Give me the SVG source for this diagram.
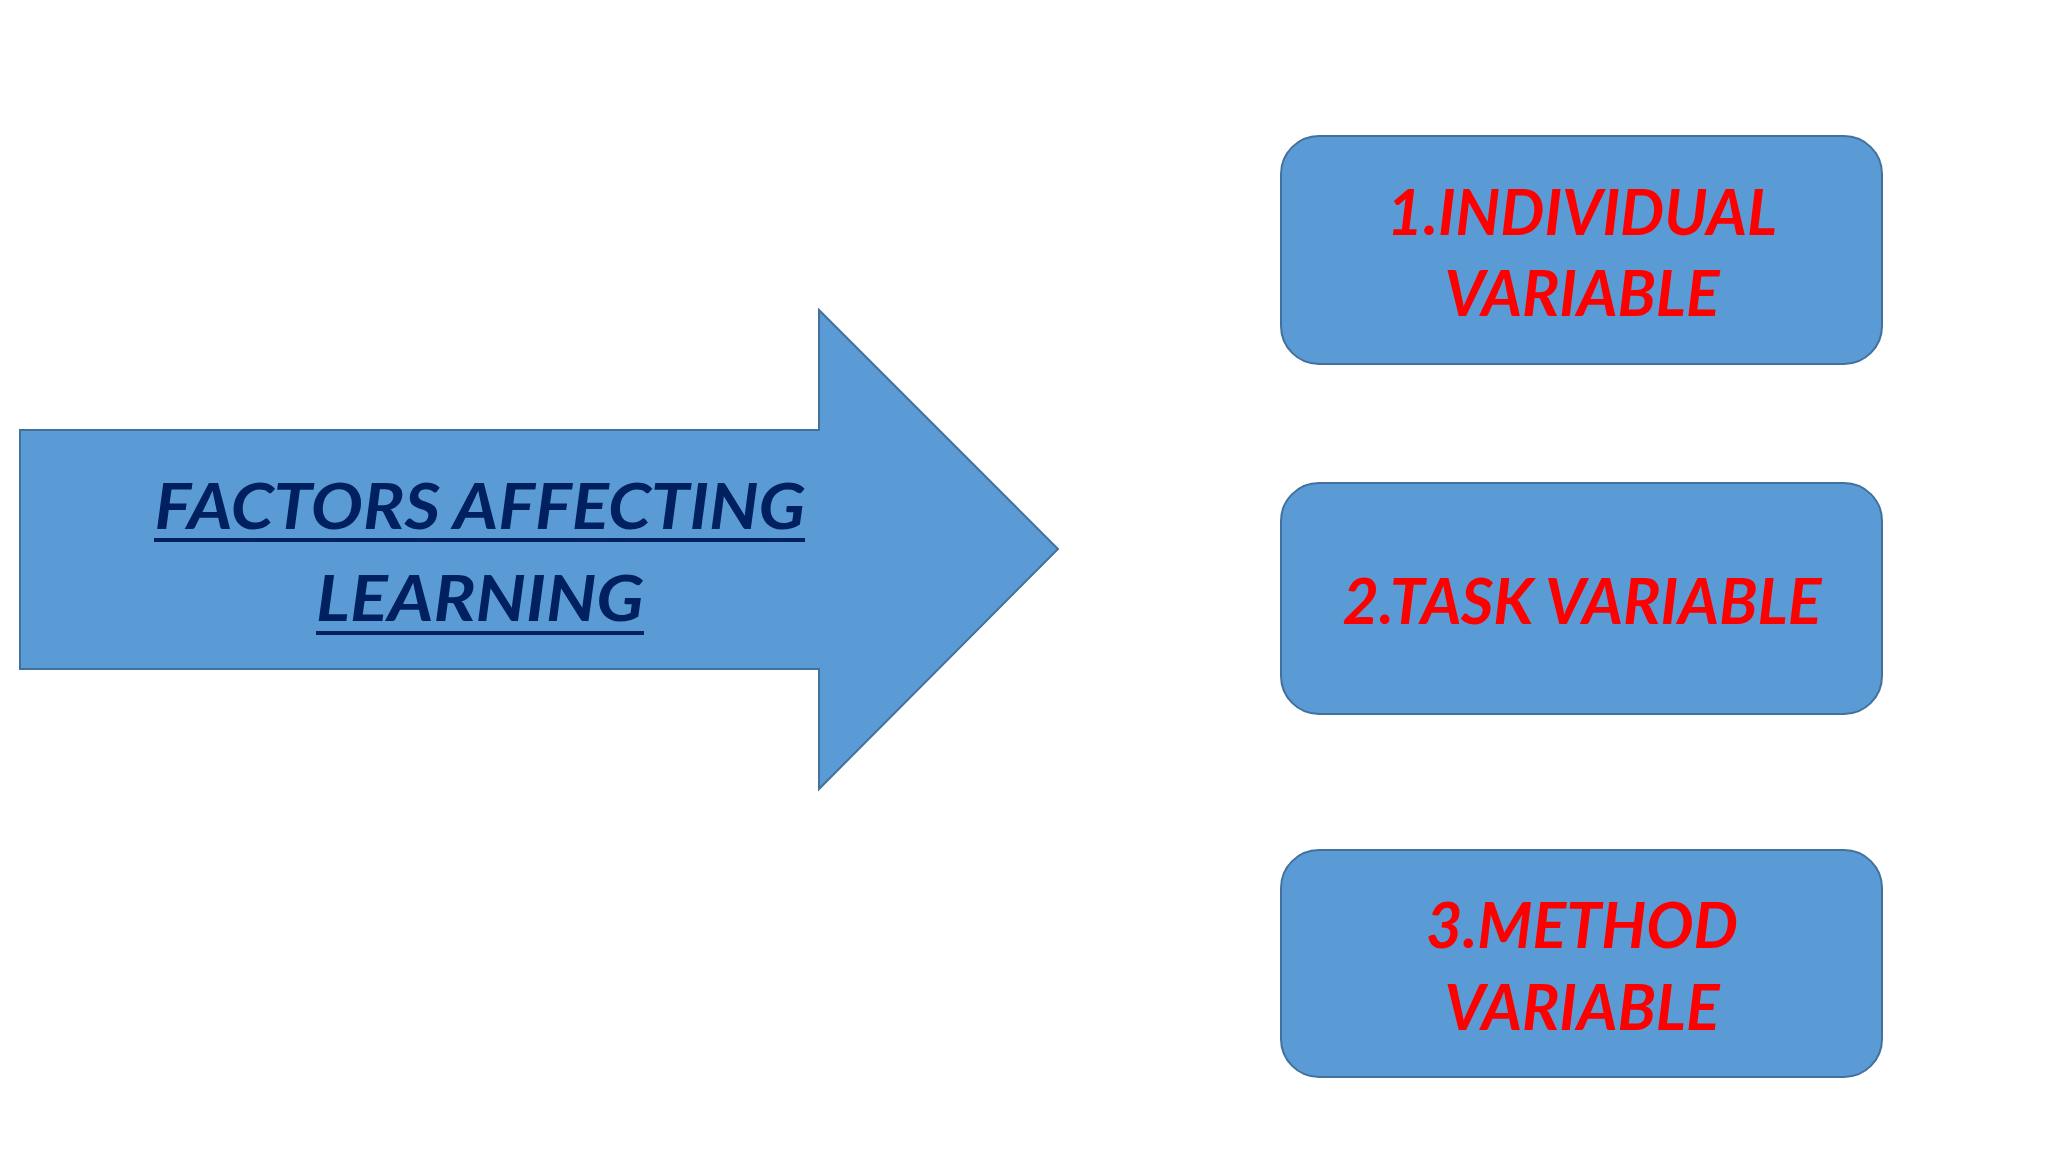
<svg xmlns="http://www.w3.org/2000/svg" width="2048" height="1152" viewBox="0 0 2048 1152">
<style>
.shape{fill:#5b9bd5;stroke:#41719c;stroke-width:2}
.red{font-family:Lato,"Liberation Sans",sans-serif;font-weight:bold;font-style:italic;font-size:64px;fill:#ff0000;text-anchor:middle}
.navy{font-family:Lato,"Liberation Sans",sans-serif;font-weight:bold;font-style:italic;font-size:64px;fill:#002060;text-anchor:middle}
.ul{stroke:#002060;stroke-width:4}
</style>
<rect width="2048" height="1152" fill="#fff"/>
<g id="arrow">
<polygon class="shape" points="20,430 819,430 819,310 1058,549 819,789 819,669 20,669"/>
<text class="navy" x="480" y="529" textLength="651" lengthAdjust="spacingAndGlyphs">FACTORS AFFECTING</text>
<line class="ul" x1="154" y1="540" x2="805" y2="540"/>
<text class="navy" x="480" y="621" textLength="328" lengthAdjust="spacingAndGlyphs">LEARNING</text>
<line class="ul" x1="316" y1="633" x2="644" y2="633"/>
</g>
<g id="box1">
<rect class="shape" x="1281" y="136" width="601" height="228" rx="38"/>
<text class="red" x="1582" y="235" textLength="390" lengthAdjust="spacingAndGlyphs">1.INDIVIDUAL</text>
<text class="red" x="1582" y="316" textLength="275" lengthAdjust="spacingAndGlyphs">VARIABLE</text>
</g>
<g id="box2">
<rect class="shape" x="1281" y="483" width="601" height="231" rx="38"/>
<text class="red" x="1582" y="624" textLength="479" lengthAdjust="spacingAndGlyphs">2.TASK VARIABLE</text>
</g>
<g id="box3">
<rect class="shape" x="1281" y="850" width="601" height="227" rx="38"/>
<text class="red" x="1582" y="948" textLength="312" lengthAdjust="spacingAndGlyphs">3.METHOD</text>
<text class="red" x="1582" y="1030" textLength="275" lengthAdjust="spacingAndGlyphs">VARIABLE</text>
</g>
<g id="connectors"/>
</svg>
